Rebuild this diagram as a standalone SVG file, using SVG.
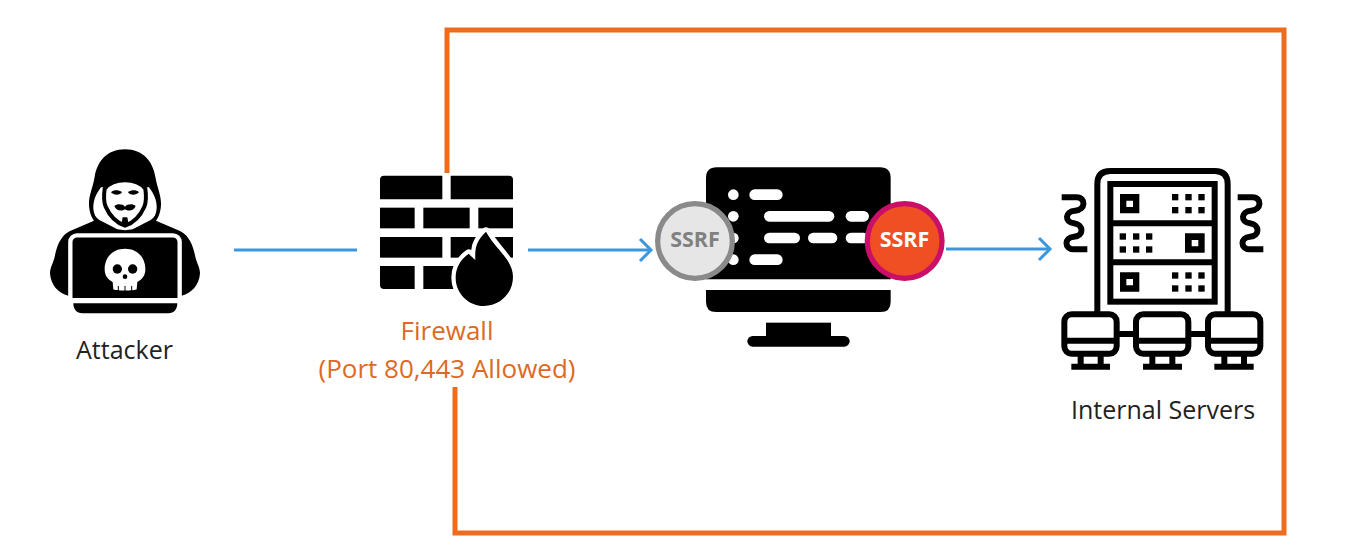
<svg xmlns="http://www.w3.org/2000/svg" width="1358" height="553" viewBox="0 0 1358 553">
<style>
.lbl{font-family:"Open Sans","Noto Sans","Liberation Sans",sans-serif;text-anchor:middle;font-weight:400}
.blk{fill:#000}
.wht{fill:#fff}
.blue{fill:none;stroke:#3b97dc;stroke-width:3}
.org{fill:none;stroke:#ee6c1d;stroke-width:5}
.ssrf{font-family:"Open Sans","Noto Sans","Liberation Sans",sans-serif;font-weight:700;font-size:21.500px;text-anchor:middle}
.ln{fill:none;stroke:#000;stroke-width:18}
</style>
<defs>
<marker id="arr" markerUnits="userSpaceOnUse" markerWidth="20" markerHeight="28" refX="17" refY="14" orient="auto"><path d="M6,3 L17,14 L6,25" fill="none" stroke="#3b97dc" stroke-width="3"/></marker>
<g id="d"><rect width="19" height="19"/></g>
<path id="wig" d="M35,112 H80 C108,112 108,150 75,152 C45,154 42,186 72,190 C102,194 102,228 72,230 C42,232 42,268 72,268 H112" fill="none" stroke="#000" stroke-width="18"/>
</defs>
<rect width="1358" height="553" fill="#fff"/>
<g id="connectors">
<path class="org" d="M447,173 V30 H1284 V533 H455 V387"/>
<path class="blue" d="M234,250 H357"/>
<path class="blue" d="M528,250 H651" marker-end="url(#arr)"/>
<path class="blue" d="M946,249 H1050" marker-end="url(#arr)"/>
</g>
<g id="attacker">
<g transform="translate(30 130) scale(.33333)">
<path class="blk" d="M285,58 C340,58 368,95 376,140 C382,175 394,195 393,225 C392,245 386,262 378,272 L450,303 C480,318 490,350 497,385 C503,405 510,415 510,430 C508,465 485,490 455,497 L115,497 C85,490 62,465 60,430 C60,415 67,405 73,385 C80,350 90,318 120,303 L192,272 C184,262 178,245 177,225 C176,195 188,175 194,140 C202,95 230,58 285,58Z"/>
<path class="wht" d="M213,172 C198,192 189,212 190,235 C191,252 197,264 208,270 L262,298 Q285,303 308,298 L362,270 C373,264 379,252 380,235 C381,212 372,192 357,172Z"/>
<path fill="#fff" stroke="#000" stroke-width="12" d="M224,176 C250,142 320,142 346,176 C349,198 348,218 343,230 C332,255 312,278 285,287 C258,278 238,255 227,230 C222,218 221,198 224,176Z"/>
<path class="blk" d="M243,187 C252,178 266,180 276,186 C272,196 252,198 243,187Z M327,187 C318,178 304,180 294,186 C298,196 318,198 327,187Z"/>
<path class="blk" d="M253,228 C262,220 278,222 285,230 C292,222 308,220 317,228 C312,243 295,245 285,238 C275,245 258,243 253,228Z"/>
<path class="blk" d="M278,262 L292,262 L295,278 L285,284 L275,278Z"/>
<rect x="121" y="316" width="328" height="220" rx="20" fill="#000" stroke="#fff" stroke-width="13"/>
<rect x="100" y="504" width="370" height="40" fill="#fff"/>
<path class="blk" d="M130,520 H442 C442,538 432,550 415,550 H157 C140,550 130,538 130,520Z"/>
<path class="wht" d="M285,356 C322,356 346,382 346,418 C346,438 335,450 322,456 L320,478 C318,483 252,483 250,478 L248,456 C235,450 224,438 224,418 C224,382 248,356 285,356Z"/>
<circle class="blk" cx="262" cy="417" r="14"/><circle class="blk" cx="308" cy="417" r="14"/><circle class="blk" cx="285" cy="440" r="7"/>
<path d="M265,468 V483 M285,468 V483 M305,468 V483" stroke="#000" stroke-width="3" fill="none"/>
</g>
<text class="lbl" x="124.500" y="359" font-size="25" fill="#222">Attacker</text>
</g>
<g id="firewall">
<g transform="translate(360 160) scale(.33333)">
<path class="blk" d="M72,47 H247 V118 H60 V59 Q60,47 72,47Z M272,47 H447 Q459,47 459,59 V118 H272Z"/>
<rect class="blk" x="60" y="143" width="104" height="62"/><rect class="blk" x="190" y="143" width="139" height="62"/><rect class="blk" x="355" y="143" width="104" height="62"/>
<rect class="blk" x="60" y="231" width="187" height="62"/><rect class="blk" x="272" y="231" width="187" height="62"/>
<path class="blk" d="M60,318 H164 V387 H72 Q60,387 60,375Z"/><rect class="blk" x="190" y="318" width="110" height="69"/>
<path id="flame" class="blk" stroke="#fff" stroke-width="26" paint-order="stroke" stroke-linejoin="round" d="M378,215 C345,245 345,270 346,300 C340,295 333,288 326,281 C300,300 287,325 287,353 C287,400 325,438 372,438 C420,438 459,400 459,350 C459,300 405,265 378,215Z"/>
</g>
<text class="lbl" x="447" y="340" font-size="26" fill="#dc6a23">Firewall</text>
<text class="lbl" x="447" y="378" font-size="26" fill="#dc6a23">(Port 80,443 Allowed)</text>
</g>
<g id="server">
<g transform="translate(640 160) scale(.33333)">
<path class="blk" d="M230,22 H720 Q752,22 752,54 V358 H198 V54 Q198,22 230,22Z"/>
<path class="blk" d="M198,390 H752 V426 Q752,456 722,456 H228 Q198,456 198,426Z"/>
<rect class="blk" x="378" y="488" width="195" height="44"/>
<rect class="blk" x="322" y="528" width="307" height="32" rx="16"/>
<g class="wht">
<circle cx="280" cy="104" r="16"/><circle cx="280" cy="169" r="16"/><circle cx="280" cy="234" r="16"/><circle cx="280" cy="299" r="16"/>
<rect x="328" y="88" width="100" height="32" rx="16"/><rect x="372" y="153" width="211" height="32" rx="16"/><rect x="617" y="153" width="70" height="32" rx="16"/>
<rect x="372" y="218" width="108" height="32" rx="16"/><rect x="504" y="218" width="88" height="32" rx="16"/><rect x="617" y="218" width="70" height="32" rx="16"/>
<rect x="328" y="283" width="100" height="32" rx="16"/>
</g>
<circle cx="165" cy="243" r="112" fill="#e6e6e6" stroke="#8a8a8a" stroke-width="16"/>
<circle cx="794" cy="243" r="112" fill="#f04e23" stroke="#cb0f68" stroke-width="16"/>
</g>
<text class="ssrf" x="695" y="247" fill="#808080">SSRF</text>
<text class="ssrf" x="904.500" y="247" fill="#fff">SSRF</text>
</g>
<g id="internal-servers">
<g transform="translate(1050 160) scale(.33333)">
<path class="ln" d="M142,458 V72 Q142,33 181,33 H494 Q533,33 533,72 V458"/>
<rect class="ln" x="181" y="72" width="313" height="353" fill="#fff"/>
<path class="ln" d="M181,190 H494 M181,307 H494"/>
<g class="blk">
<path fill-rule="evenodd" d="M210,102 H268 V160 H210Z M229,122 V141 H249 V122Z"/>
<path fill-rule="evenodd" d="M405,220 H464 V278 H405Z M425,240 V259 H445 V240Z"/>
<path fill-rule="evenodd" d="M210,337 H268 V395 H210Z M229,357 V376 H249 V357Z"/>
<use href="#d" x="366" y="102"/><use href="#d" x="406" y="102"/><use href="#d" x="445" y="102"/><use href="#d" x="366" y="141"/><use href="#d" x="406" y="141"/><use href="#d" x="445" y="141"/>
<use href="#d" x="209" y="220"/><use href="#d" x="249" y="220"/><use href="#d" x="288" y="220"/><use href="#d" x="209" y="259"/><use href="#d" x="249" y="259"/><use href="#d" x="288" y="259"/>
<use href="#d" x="366" y="337"/><use href="#d" x="406" y="337"/><use href="#d" x="445" y="337"/><use href="#d" x="366" y="376"/><use href="#d" x="406" y="376"/><use href="#d" x="445" y="376"/>
</g>
<use href="#wig"/>
<use href="#wig" x="528"/>
<g fill="#fff" stroke="#000" stroke-width="18">
<rect x="43" y="463" width="157" height="118" rx="22"/><rect x="258" y="463" width="157" height="118" rx="22"/><rect x="474" y="463" width="157" height="118" rx="22"/>
</g>
<path class="ln" d="M43,542 H200 M258,542 H415 M474,542 H631 M200,522 H258 M415,522 H474 M92,581 V620 M152,581 V620 M307,581 V620 M367,581 V620 M523,581 V620 M582,581 V620"/>
<path class="ln" d="M64,620 H180 M279,620 H396 M493,620 H611"/>
</g>
<text class="lbl" x="1163" y="419" font-size="25" fill="#222">Internal Servers</text>
</g>
</svg>
